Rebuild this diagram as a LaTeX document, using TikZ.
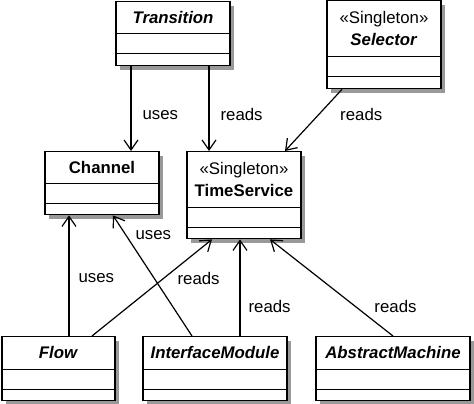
\documentclass[tikz,border=0pt]{standalone}
\usepackage{fontspec}
\setmainfont{Liberation Sans}
\usetikzlibrary{arrows.meta,shadows,positioning}
\tikzset{
  classbox/.style={draw, line width=1.4pt, fill=white, inner sep=0pt,
    drop shadow={shadow xshift=4pt, shadow yshift=-4pt, fill=black!40, opacity=1}},
  classname/.style={inner sep=0pt, align=center, font=\fontsize{16.8}{22}\selectfont},
  compline/.style={line width=1pt},
  assoc/.style={line width=1.2pt, -{Straight Barb[length=10pt,width=14pt,line width=1.2pt]}},
  lbl/.style={inner sep=1pt, font=\fontsize{16.8}{20}\selectfont}
}
\newcommand{\umlclass}[6]{%
  \node[classbox, minimum width=#4pt, minimum height=#5pt+31pt, anchor=north] (#1) at (#2,#3) {};
  \path (#1.north) ++(0,#5/2) node[classname] (#1-name) {#6};
  \draw[compline] (#1.north west) ++(0,#5) -- ++(#4,0) ++(-#4,20) -- ++(#4,0);
}
\begin{document}
\begin{tikzpicture}[x=1pt,y=-1pt]
\useasboundingbox (0,0) rectangle (474,404);
\umlclass{transition}{173}{1}{114}{33}{\textbf{\textit{Transition}}}
\umlclass{selector}{384}{0}{114}{57}{«Singleton»\\\textbf{\textit{Selector}}}
\umlclass{channel}{102}{151}{114}{32}{\textbf{Channel}}
\umlclass{timeservice}{244}{151}{114}{56}{«Singleton»\\\textbf{TimeService}}
\umlclass{flow}{58.5}{336}{113}{33}{\textbf{\textit{Flow}}}
\umlclass{interfacemodule}{215}{336}{144}{33}{\textbf{\textit{InterfaceModule}}}
\umlclass{abstractmachine}{393}{336}{154}{33}{\textbf{\textit{AbstractMachine}}}

\draw [assoc] ([xshift=-42pt]transition.south) -- ([xshift=29pt]channel.north) node [lbl, pos=0.57, right=10pt] {uses};
\draw [assoc] ([xshift=36pt]transition.south) -- ([xshift=-35pt]timeservice.north) node [lbl, pos=0.57, right=10pt] {reads};
\draw [assoc] ([xshift=-42pt]selector.south) -- ([xshift=41pt]timeservice.north) node [lbl, pos=0.41, right=20pt] {reads};
\draw [assoc] ([xshift=10.5pt]flow.north) -- ([xshift=-33pt]channel.south) node [lbl, pos=0.48, right=8pt] {uses};
\draw [assoc] ([xshift=-23pt]interfacemodule.north) -- ([xshift=11pt]channel.south) node [lbl, pos=0.836, right=8pt] {uses};
\draw [assoc] ([xshift=33.5pt]flow.north) -- ([xshift=-32pt]timeservice.south) node [lbl, pos=0.6, right=12pt] {reads};
\draw [assoc] ([xshift=25pt]interfacemodule.north) -- ([xshift=-4pt]timeservice.south) node [lbl, pos=0.31, right=7pt] {reads};
\draw [assoc] (abstractmachine.north) -- ([xshift=26pt]timeservice.south) node [lbl, pos=0.31, right=18pt] {reads};
\end{tikzpicture}
\end{document}
